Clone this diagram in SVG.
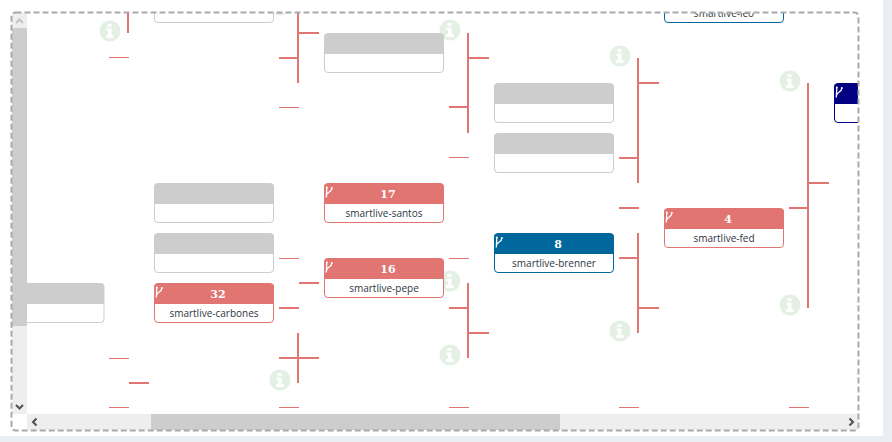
<svg xmlns="http://www.w3.org/2000/svg" width="892" height="442" viewBox="0 0 892 442">
<style>
.n{font:10px "Open Sans","Liberation Sans",sans-serif;fill:#2f3542;text-anchor:middle}
.s{font:bold 11px "DejaVu Serif","Liberation Serif",serif;fill:#fff;text-anchor:middle}
.b{fill:none;stroke:#fff;stroke-width:1.3}
.t{stroke:#e17572;stroke-width:1;fill:none}
.k{stroke:#e17572;stroke-width:2;fill:none}
.i circle{fill:#e4f0e4}
.i path{fill:#fff}
</style>
<defs>
<clipPath id="c"><rect x="12" y="13" width="846" height="417"/></clipPath>
<g id="f"><path class="b" d="M2.800 2.500L2.300 12.500M7.800 3C7.800 7.500 3 6.500 2.500 10.500"/><circle cx="2.800" cy="2.500" r="1" fill="#fff"/><circle cx="7.800" cy="3" r="1" fill="#fff"/></g>
<g id="h" class="i"><circle r="10.500"/><path d="M-2.500-7h4v3h-4zM-3.500-2.500h5V4h2v3h-7.500V4h2V0h-1.500z"/></g>
</defs>
<rect width="892" height="442" fill="#eaeef3"/>
<rect x="0" y="0" width="883" height="436" fill="#fff"/>
<g clip-path="url(#c)">
<g id="connectors">
<path class="t" d="M109 57.500h20M109 358.500h20M109 407.500h20M279 107.500h20M279 258.500h20M279 407.500h20M449 157.500h20M449 258.500h20M449 407.500h20M619 407.500h20M789 407.500h20"/>
<path class="k" d="M128 12V33M129 383h20M298 12V83M298 33h21M279 58h20M279 308h20M299 283h20M298 333V383M279 358h40M468 33V133M468 58h21M449 107h20M468 283V358M449 308h20M468 333h21M638 58V183M638 83h21M619 158h20M619 208h20M638 233V333M619 258h20M638 308h21M808 83V308M808 183h21M789 208h20"/>
</g>
<g id="info">
<use href="#h" x="110" y="31"/><use href="#h" x="280" y="5"/><use href="#h" x="450" y="30"/><use href="#h" x="620" y="56"/><use href="#h" x="790" y="81"/><use href="#h" x="790" y="305"/><use href="#h" x="620" y="331"/><use href="#h" x="450" y="281"/><use href="#h" x="450" y="355"/><use href="#h" x="280" y="380"/>
</g>
<g id="n-a"><rect x="-16" y="283.500" width="120" height="39" rx="3.500" fill="#fff" stroke="#cdcdcd"/><path d="M-16 283h116.500a3.500 3.500 0 0 1 3.500 3.500V304H-16z" fill="#cdcdcd"/></g>
<g id="n-b"><rect x="154.500" y="-16.500" width="119" height="39" rx="3.500" fill="#fff" stroke="#cdcdcd"/></g>
<g id="n-c"><rect x="154.500" y="183.500" width="119" height="39" rx="3.500" fill="#fff" stroke="#cdcdcd"/><path d="M154 187a3.500 3.500 0 0 1 3.500-3.500h113a3.500 3.500 0 0 1 3.500 3.500V204H154z" fill="#cdcdcd"/></g>
<g id="n-d"><rect x="154.500" y="233.500" width="119" height="39" rx="3.500" fill="#fff" stroke="#cdcdcd"/><path d="M154 237a3.500 3.500 0 0 1 3.500-3.500h113a3.500 3.500 0 0 1 3.500 3.500V254H154z" fill="#cdcdcd"/></g>
<g id="n-32"><rect x="154.500" y="283.500" width="119" height="39" rx="3.500" fill="#fff" stroke="#e17572"/><path d="M154 287a3.500 3.500 0 0 1 3.500-3.500h113a3.500 3.500 0 0 1 3.500 3.500V304H154z" fill="#e17572"/><use href="#f" x="154" y="285"/><text class="s" x="218" y="297.500">32</text><text class="n" x="214" y="317">smartlive-carbones</text></g>
<g id="n-e"><rect x="324.500" y="33.500" width="119" height="39" rx="3.500" fill="#fff" stroke="#cdcdcd"/><path d="M324 37a3.500 3.500 0 0 1 3.500-3.500h113a3.500 3.500 0 0 1 3.500 3.500V54H324z" fill="#cdcdcd"/></g>
<g id="n-17"><rect x="324.500" y="183.500" width="119" height="39" rx="3.500" fill="#fff" stroke="#e17572"/><path d="M324 187a3.500 3.500 0 0 1 3.500-3.500h113a3.500 3.500 0 0 1 3.500 3.500V204H324z" fill="#e17572"/><use href="#f" x="324" y="185"/><text class="s" x="388" y="197.500">17</text><text class="n" x="384" y="217">smartlive-santos</text></g>
<g id="n-16"><rect x="324.500" y="258.500" width="119" height="39" rx="3.500" fill="#fff" stroke="#e17572"/><path d="M324 262a3.500 3.500 0 0 1 3.500-3.500h113a3.500 3.500 0 0 1 3.500 3.500V279H324z" fill="#e17572"/><use href="#f" x="324" y="260"/><text class="s" x="388" y="272.500">16</text><text class="n" x="384" y="292">smartlive-pepe</text></g>
<g id="n-f"><rect x="494.500" y="83.500" width="119" height="39" rx="3.500" fill="#fff" stroke="#cdcdcd"/><path d="M494 87a3.500 3.500 0 0 1 3.500-3.500h113a3.500 3.500 0 0 1 3.500 3.500V104H494z" fill="#cdcdcd"/></g>
<g id="n-g"><rect x="494.500" y="133.500" width="119" height="39" rx="3.500" fill="#fff" stroke="#cdcdcd"/><path d="M494 137a3.500 3.500 0 0 1 3.500-3.500h113a3.500 3.500 0 0 1 3.500 3.500V154H494z" fill="#cdcdcd"/></g>
<g id="n-8"><rect x="494.500" y="233.500" width="119" height="39" rx="3.500" fill="#fff" stroke="#00679c"/><path d="M494 237a3.500 3.500 0 0 1 3.500-3.500h113a3.500 3.500 0 0 1 3.500 3.500V254H494z" fill="#00679c"/><use href="#f" x="494" y="235"/><text class="s" x="558" y="247.500">8</text><text class="n" x="554" y="267">smartlive-brenner</text></g>
<g id="n-leo"><rect x="664.500" y="-16.500" width="119" height="39" rx="3.500" fill="#fff" stroke="#00679c"/><text class="n" x="724" y="17">smartlive-leo</text></g>
<g id="n-4"><rect x="664.500" y="208.500" width="119" height="39" rx="3.500" fill="#fff" stroke="#e17572"/><path d="M664 212a3.500 3.500 0 0 1 3.500-3.500h113a3.500 3.500 0 0 1 3.500 3.500V229H664z" fill="#e17572"/><use href="#f" x="664" y="210"/><text class="s" x="728" y="222.500">4</text><text class="n" x="724" y="242">smartlive-fed</text></g>
<g id="n-navy"><rect x="834.500" y="83.500" width="119" height="39" rx="3.500" fill="#fff" stroke="#000080"/><path d="M834 87a3.500 3.500 0 0 1 3.500-3.500h113a3.500 3.500 0 0 1 3.500 3.500V104H834z" fill="#000080"/><use href="#f" x="834" y="85"/></g>
</g>
<g id="scrollbars">
<rect x="12" y="13" width="15" height="401" fill="#eee"/>
<rect x="12" y="28" width="15" height="298" fill="#cdcdcd"/>
<rect x="27" y="414" width="831" height="16" fill="#eee"/>
<rect x="151" y="414" width="409" height="16" fill="#cdcdcd"/>
<path d="M16 23l3.500-3.500 3.500 3.500" fill="none" stroke="#c4c4c4" stroke-width="2"/>
<path d="M16 405l3.500 3.500 3.500-3.500" fill="none" stroke="#505050" stroke-width="2"/>
<path d="M36.500 418.500l-3.500 3.500 3.500 3.500" fill="none" stroke="#505050" stroke-width="2"/>
<path d="M849.500 418.500l3.500 3.500-3.500 3.500" fill="none" stroke="#505050" stroke-width="2"/>
</g>
<rect id="frame" x="11.500" y="12.500" width="847" height="418" rx="4" fill="none" stroke="#a9a9a9" stroke-width="2" stroke-dasharray="6 3"/>
</svg>
